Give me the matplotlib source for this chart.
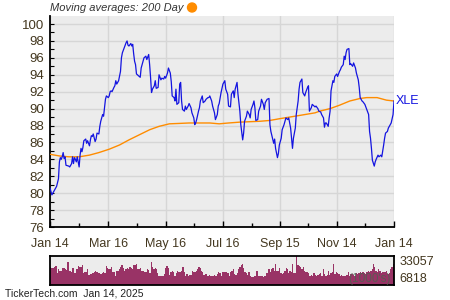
import matplotlib
matplotlib.use("Agg")
import matplotlib.pyplot as plt
import matplotlib.dates as mdates
import pandas as pd
import numpy as np

plt.rcParams['font.family'] = ['Liberation Sans', 'DejaVu Sans']

# ---- data ----
start_date = "2024-01-14"
price_day = [0, 2, 4, 7, 9, 10, 11, 12, 13, 14, 15, 16, 17, 20, 21, 23, 24, 25, 26, 27, 28, 29, 31, 32, 33, 34, 35, 36, 38, 39,
             40, 42, 43, 44, 45, 46, 48, 49, 50, 52, 53, 54, 56, 57, 58, 59, 60, 62, 63, 64, 65, 66, 68, 69, 70, 71, 73, 75, 76, 77,
             79, 81, 82, 83, 84, 86, 87, 88, 89, 90, 91, 92, 94, 96, 97, 98, 100, 102, 103, 105, 106, 107, 108, 109, 111, 112, 113, 115, 116, 118,
             119, 121, 122, 123, 125, 126, 128, 129, 130, 132, 133, 134, 135, 137, 138, 139, 140, 141, 143, 144, 145, 147, 148, 150, 151, 153, 154, 155, 156, 158,
             159, 160, 162, 163, 165, 166, 168, 169, 170, 172, 173, 175, 176, 178, 179, 180, 182, 184, 186, 187, 189, 190, 192, 193, 195, 196, 197, 199, 200, 202,
             203, 205, 206, 207, 209, 210, 212, 213, 214, 216, 217, 218, 219, 221, 222, 224, 225, 227, 228, 229, 231, 233, 234, 235, 237, 238, 239, 240, 242, 243,
             244, 246, 247, 249, 250, 251, 253, 254, 256, 257, 258, 259, 261, 262, 264, 265, 266, 268, 269, 271, 272, 274, 275, 276, 278, 279, 282, 283, 285, 286,
             288, 289, 291, 292, 293, 294, 296, 297, 298, 299, 301, 302, 303, 305, 306, 308, 309, 310, 312, 313, 314, 315, 316, 318, 319, 320, 322, 323, 325, 326,
             328, 329, 330, 332, 333, 335, 337, 339, 340, 341, 342, 343, 345, 346, 347, 349, 350, 352, 353, 355, 356, 357, 359, 360, 362, 363, 365, 366]
price_val = [80.6, 79.8, 80.2, 80.8, 81.7, 83.7, 84.2, 84.0, 84.3, 84.8, 84.1, 84.3, 83.3, 83.2, 83.1, 83.5, 84.3, 83.5, 84.2, 84.0, 83.7, 84.3, 83.1, 84.5, 85.3, 84.9, 85.4, 86.2, 86.4, 85.9,
             86.2, 85.6, 86.3, 86.8, 86.7, 87.0, 86.1, 86.4, 87.1, 87.0, 87.9, 88.5, 89.3, 89.1, 90.1, 91.1, 91.5, 91.3, 91.5, 92.0, 92.1, 92.0, 92.5, 92.7, 93.3, 92.9, 93.3, 94.4, 96.0, 96.6,
             97.2, 97.8, 98.0, 97.5, 97.4, 97.7, 97.4, 97.6, 96.5, 95.6, 95.2, 94.1, 93.9, 93.7, 94.8, 95.2, 96.0, 96.2, 95.8, 96.4, 95.2, 93.7, 91.9, 92.3, 92.7, 93.3, 92.4, 92.5, 94.0, 93.4,
             93.6, 93.5, 93.8, 93.6, 94.2, 94.8, 94.2, 93.2, 91.5, 91.3, 90.9, 92.3, 90.5, 90.7, 92.9, 93.1, 90.9, 89.9, 89.7, 90.3, 89.9, 90.3, 90.6, 90.1, 89.5, 88.9, 88.1, 88.3, 88.7, 89.7,
             90.1, 90.9, 91.5, 90.7, 90.9, 91.1, 91.3, 91.3, 91.5, 90.9, 90.3, 89.5, 88.7, 89.3, 90.3, 90.6, 91.9, 92.9, 93.3, 92.3, 91.7, 90.3, 90.2, 91.7, 92.1, 91.3, 92.3, 93.1, 91.7, 89.7,
             88.1, 86.3, 87.1, 88.5, 89.1, 89.7, 89.3, 88.9, 89.9, 90.5, 90.9, 90.1, 88.6, 88.7, 89.7, 90.3, 91.1, 90.5, 89.9, 90.7, 91.1, 91.2, 88.1, 87.3, 86.4, 85.9, 86.4, 85.3, 84.2, 84.7,
             85.7, 86.5, 87.5, 88.1, 88.5, 88.9, 88.7, 88.9, 87.7, 86.5, 85.3, 86.5, 87.7, 89.3, 90.9, 92.3, 93.1, 93.5, 91.9, 91.5, 91.9, 92.5, 92.7, 89.7, 90.1, 90.5, 90.2, 90.3, 90.0, 89.7,
             89.6, 89.3, 88.9, 87.8, 88.3, 88.3, 87.9, 88.9, 89.7, 92.1, 93.3, 93.1, 93.8, 94.1, 93.8, 94.4, 94.6, 94.9, 95.2, 96.2, 95.8, 96.6, 97.0, 97.1, 95.2, 95.3, 95.0, 95.4, 94.8, 94.2,
             93.4, 92.5, 91.3, 90.9, 90.8, 90.5, 89.9, 89.3, 87.3, 86.5, 85.3, 83.9, 83.2, 83.7, 84.0, 84.5, 84.3, 84.5, 84.3, 85.7, 86.5, 87.1, 87.3, 87.7, 88.1, 88.3, 89.3, 90.9]

ma_day = [0, 10, 20, 31, 42, 52, 63, 74, 84, 95, 106, 116, 127, 138, 148, 159, 170, 180, 190, 202, 223, 234, 244, 255, 266,
          282, 287, 298, 308, 319, 330, 337, 348, 358, 366]
ma_val = [84.6, 84.4, 84.3, 84.3, 84.5, 84.8, 85.2, 85.7, 86.3, 86.9, 87.5, 87.9, 88.2, 88.25, 88.3, 88.3, 88.3, 88.2, 88.3, 88.4, 88.5, 88.6, 88.8, 89.0, 89.2,
          89.5, 89.7, 90.0, 90.4, 90.9, 91.2, 91.3, 91.3, 91.0, 90.9]

volume_k = [20.5, 19.8, 19.3, 20.0, 21.6, 13.8, 18.5, 16.5, 16.0, 19.3, 19.0, 17.7, 17.5, 26.4, 16.5, 16.3, 14.6, 19.7, 13.8, 13.5,
            17.7, 21.6, 20.5, 20.5, 22.4, 13.8, 14.6, 14.3, 18.5, 11.4, 12.6, 12.3, 13.4, 14.6, 16.5, 15.3, 13.8, 13.8, 12.6, 13.8,
            14.6, 13.8, 21.6, 19.3, 17.7, 18.5, 20.5, 15.3, 14.6, 9.8, 16.5, 16.5, 18.5, 20.5, 22.4, 19.3, 16.5, 18.5, 19.3, 17.7,
            20.5, 19.3, 18.5, 22.4, 23.2, 24.4, 17.7, 18.5, 19.3, 16.5, 16.3, 14.6, 15.3, 17.7, 17.5, 13.8, 26.4, 20.5, 17.7, 19.3,
            18.5, 13.8, 9.8, 10.6, 9.8, 10.6, 12.6, 19.3, 21.6, 19.3, 11.4, 14.6, 16.5, 15.3, 10.6, 13.8, 16.5, 14.6, 15.3, 16.5,
            20.5, 14.6, 10.6, 12.6, 9.8, 11.4, 11.4, 16.5, 14.6, 15.3, 16.5, 17.7, 20.5, 19.3, 16.5, 14.6, 11.4, 12.6, 12.6, 10.6,
            11.4, 9.8, 10.6, 10.6, 11.4, 10.6, 12.6, 14.6, 13.8, 10.6, 15.3, 14.6, 15.3, 15.3, 13.8, 10.6, 14.6, 16.5, 17.7, 12.6,
            11.4, 13.8, 18.5, 20.5, 23.2, 24.4, 19.3, 14.6, 13.8, 11.4, 14.6, 9.8, 8.7, 8.7, 9.8, 9.8, 16.5, 9.8, 10.6, 9.8,
            9.8, 8.7, 9.8, 13.8, 13.8, 18.5, 14.6, 17.7, 19.3, 16.5, 24.4, 16.5, 16.5, 19.3, 13.8, 12.6, 13.8, 16.5, 19.3, 17.7,
            13.8, 16.5, 14.6, 24.4, 13.8, 13.8, 33.057, 22.4, 21.6, 20.5, 17.7, 20.5, 16.5, 15.3, 14.6, 13.8, 10.6, 11.4, 10.6, 13.8,
            11.4, 10.6, 11.4, 12.6, 13.8, 9.8, 18.5, 12.6, 10.6, 11.4, 16.5, 11.4, 13.8, 14.6, 24.4, 12.6, 14.6, 13.8, 12.6, 10.6,
            11.4, 9.8, 10.6, 10.6, 11.4, 14.6, 10.6, 12.6, 12.6, 11.4, 10.6, 13.8, 12.6, 13.8, 14.6, 13.8, 15.3, 13.8, 12.6, 14.6,
            16.5, 14.6, 16.5, 18.5, 24.4, 20.5, 16.5, 15.3, 17.7, 16.5, 13.8, 15.3, 14.6, 15.3, 16.5, 12.6, 13.8, 18.5, 20.5, 24.4]
volume_labels = [33057, 6818]

tick_dates = ["2024-01-14", "2024-03-16", "2024-05-16", "2024-07-16", "2024-09-15", "2024-11-14", "2025-01-14"]
tick_labels = ["Jan 14", "Mar 16", "May 16", "Jul 16", "Sep 15", "Nov 14", "Jan 14"]
ytick_vals = [76, 78, 80, 82, 84, 86, 88, 90, 92, 94, 96, 98, 100]
ticker = "XLE"
title_text = "Moving averages: 200 Day"
footer_text = "TickerTech.com  Jan 14, 2025"

# ---- drawing ----
t0 = pd.Timestamp(start_date)
p_dates = t0 + pd.to_timedelta(price_day, unit="D")
m_dates = t0 + pd.to_timedelta(ma_day, unit="D")
tdates = pd.to_datetime(tick_dates)

txtc = "#43371f"
blue = "#1414e0"
orange = "#ff8c00"
bg = "#ececec"
gridc = "#d6d6d6"

fig = plt.figure(figsize=(4.5, 3), dpi=100)
fig.patch.set_facecolor("white")
ax = fig.add_axes([50/450, 1-227/300, 344/450, 211/300])
ax.set_facecolor(bg)
ax.plot(m_dates, ma_val, color=orange, lw=1.0, zorder=3)
ax.plot(p_dates, price_val, color=blue, lw=0.9, zorder=4)
ax.set_xlim(tdates[0], tdates[-1])
ax.set_ylim(76, 100.95)

ax.set_yticks(ytick_vals)
ax.set_yticks(np.arange(77, 100, 2), minor=True)
ax.tick_params(axis="y", which="both", direction="in", length=3, width=0.8, labelsize=9.5,
               labelcolor=txtc, pad=4)
ax.set_xticks(tdates)
ax.set_xticklabels(tick_labels)
mids = [tdates[i] + (tdates[i+1]-tdates[i])/2 for i in range(len(tdates)-1)]
ax.set_xticks(mids, minor=True)
ax.tick_params(axis="x", which="major", direction="in", length=4, width=1, labelsize=9,
               labelcolor=txtc, pad=8)
ax.tick_params(axis="x", which="minor", direction="in", length=3, width=1)
ax.grid(True, which="major", color=gridc, lw=1.0, zorder=0)
ax.set_axisbelow(True)
for s in ["top", "right"]:
    ax.spines[s].set_visible(False)
for s in ["left", "bottom"]:
    ax.spines[s].set_linewidth(1.3)
    ax.spines[s].set_color("black")

ax.text(1.006, price_val[-1], ticker, transform=ax.get_yaxis_transform(), color=blue,
        fontsize=9, va="center", ha="left")

fig.text(50/450, 1-8/300, title_text, fontsize=8, style="italic", color="#333333",
         va="center", ha="left")
fig.patches.append(matplotlib.patches.Ellipse((192/450, 1-7.5/300), 9/450, 9/300,
                   transform=fig.transFigure, color=orange, figure=fig))
fig.text(5/450, 1-294/300, footer_text, fontsize=7.5, color="#222222", va="center", ha="left")

# volume panel
axv = fig.add_axes([50/450, 15/300, 344/450, 29/300])
axv.set_facecolor(bg)
idx = np.arange(len(volume_k))
axv.bar(idx, volume_k, width=1.0, color="#993366", lw=0)
axv.set_xlim(-0.5, len(volume_k)-0.5)
axv.set_ylim(0, volume_labels[0]/1000)
axv.set_xticks([])
axv.yaxis.tick_right()
axv.set_yticks([v/1000 for v in volume_labels])
axv.set_yticklabels([str(v) for v in volume_labels])
axv.tick_params(axis="y", length=0, labelsize=9, labelcolor=txtc, pad=4)
labs = axv.get_yticklabels()
labs[0].set_va("top")
labs[1].set_va("center")
for s in axv.spines.values():
    s.set_linewidth(1.3)
    s.set_color("black")
axv.text(0.99, 0.2, "(1000's)", transform=axv.transAxes, ha="right", va="center",
         fontsize=8.5, color="#4f604f", alpha=0.85)

fig.savefig("out.png", dpi=100)
